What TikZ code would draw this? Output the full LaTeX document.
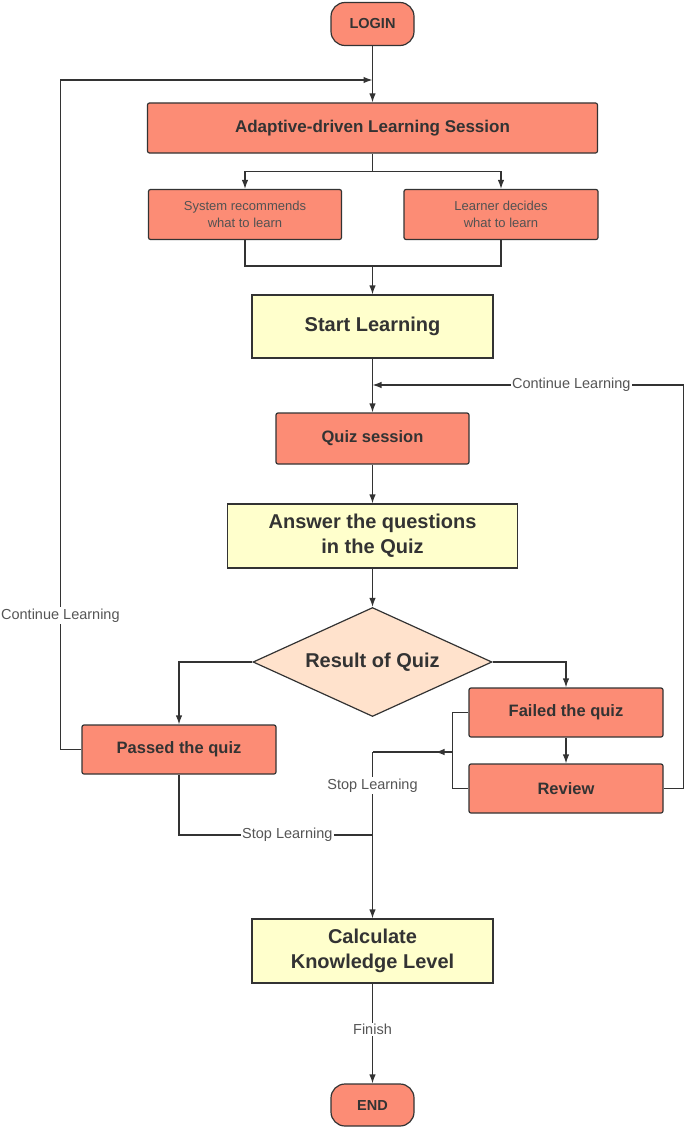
\documentclass[tikz,border=0pt]{standalone}
\usepackage{fontspec}
\setmainfont{Liberation Sans}
\usetikzlibrary{shapes.geometric,arrows.meta}
\definecolor{salmon}{RGB}{252,140,117}
\definecolor{paleyellow}{RGB}{255,255,204}
\definecolor{peach}{RGB}{255,226,204}
\definecolor{edgegray}{RGB}{51,51,51}
\definecolor{labelgray}{RGB}{85,85,85}

\begin{document}
\begin{tikzpicture}[x=1pt,y=-1pt,
  box/.style={draw=edgegray,line width=1.2pt,rounded corners=2pt,fill=salmon,text=edgegray,align=center,inner sep=0pt,font=\bfseries\fontsize{16.5}{20}\selectfont},
  ybox/.style={box,fill=paleyellow,rounded corners=0pt,font=\bfseries\fontsize{20}{25}\selectfont},
  sbox/.style={box,text=edgegray!85,font=\fontsize{13}{17}\selectfont},
  term/.style={box,rounded corners=14pt,font=\bfseries\fontsize{14.5}{17}\selectfont},
  lbl/.style={fill=white,text=labelgray,inner sep=1.5pt,font=\fontsize{14.5}{17}\selectfont},
  wire/.style={draw=edgegray,line width=1.2pt},
  arr/.style={wire,-{Latex[length=9pt,width=6.5pt]}}]
         \useasboundingbox (0,0) rectangle (685,1129);

         \node[term,minimum width=83,minimum height=43](A) at (372.5,24) {LOGIN};
         \node[box,minimum width=450,minimum height=50,font=\bfseries\fontsize{17}{20}\selectfont](B) at (372.5,128) {Adaptive-driven Learning Session};
         \node[sbox,minimum width=193,minimum height=50](C) at (245,214.5) {System recommends\\what to learn};
         \node[sbox,minimum width=194,minimum height=50](D) at (501,214.5) {Learner decides\\what to learn};
         \node[ybox,minimum width=241,minimum height=63](E) at (372.5,326.5) {Start Learning};
         \node[box,minimum width=193,minimum height=51](F) at (372.5,438.5) {Quiz session};
         \node[ybox,minimum width=290,minimum height=64](G) at (372.5,536) {Answer the questions\\in the Quiz};
         \node[diamond,draw=edgegray,line width=1.2pt,fill=peach,aspect=2.19,minimum width=239,minimum height=109,inner sep=0pt,text=edgegray,font=\bfseries\fontsize{20}{24}\selectfont](H) at (372.5,662) {Result of Quiz};
         \node[box,minimum width=194,minimum height=49](I) at (179,749.5) {Passed the quiz};
         \node[box,minimum width=194,minimum height=49](J) at (566,712.5) {Failed the quiz};
         \node[box,minimum width=194,minimum height=49](K) at (566,788.5) {Review};
         \node[ybox,minimum width=241,minimum height=64](L) at (372.5,951) {Calculate\\Knowledge Level};
         \node[term,minimum width=83,minimum height=42](M) at (372.5,1105) {END};

         \coordinate (T) at (372.5,80);
         \coordinate (U) at (372.5,266);
         \coordinate (V) at (372.5,385);
         \coordinate (W) at (372.5,752);
         \coordinate (X) at (372.5,835);
         \coordinate (Y) at (452.5,752);

         \draw[arr](A) -- (B);
         \draw[arr](I.west) -- ++(-21,0) |- node[lbl,pos=0.1]{Continue Learning} (T);
         \draw[wire](B.south) -- ++(0,18) coordinate(S);
         \draw[arr](S) -| (C);
         \draw[arr](S) -| (D);
         \draw[wire](C) |- (U) -| (D);
         \draw[arr](U) -- (E);
         \draw[arr](E) -- (F);
         \draw[arr](K.east) -- ++(19.5,0) |- node[lbl,pos=0.68]{Continue Learning} (V);
         \draw[arr](F) -- (G);
         \draw[arr](G) -- (H);
         \draw[arr](H.west) -| (I);
         \draw[arr](H.east) -| (J);
         \draw[arr](J) -- (K);
         \draw[wire](J.west) -- ++(-16,0) |- (K.west);
         \draw[wire](Y) -- (W);
         \draw[arr](Y) -- ++(-17,0);
         \draw[arr](W) -- node[lbl,pos=0.2]{Stop Learning} (L);
         \draw[wire](I) |- node[lbl,pos=0.78]{Stop Learning} (X);
         \draw[arr](L) -- node[lbl,pos=0.46]{Finish} (M);
\end{tikzpicture}
\end{document}
